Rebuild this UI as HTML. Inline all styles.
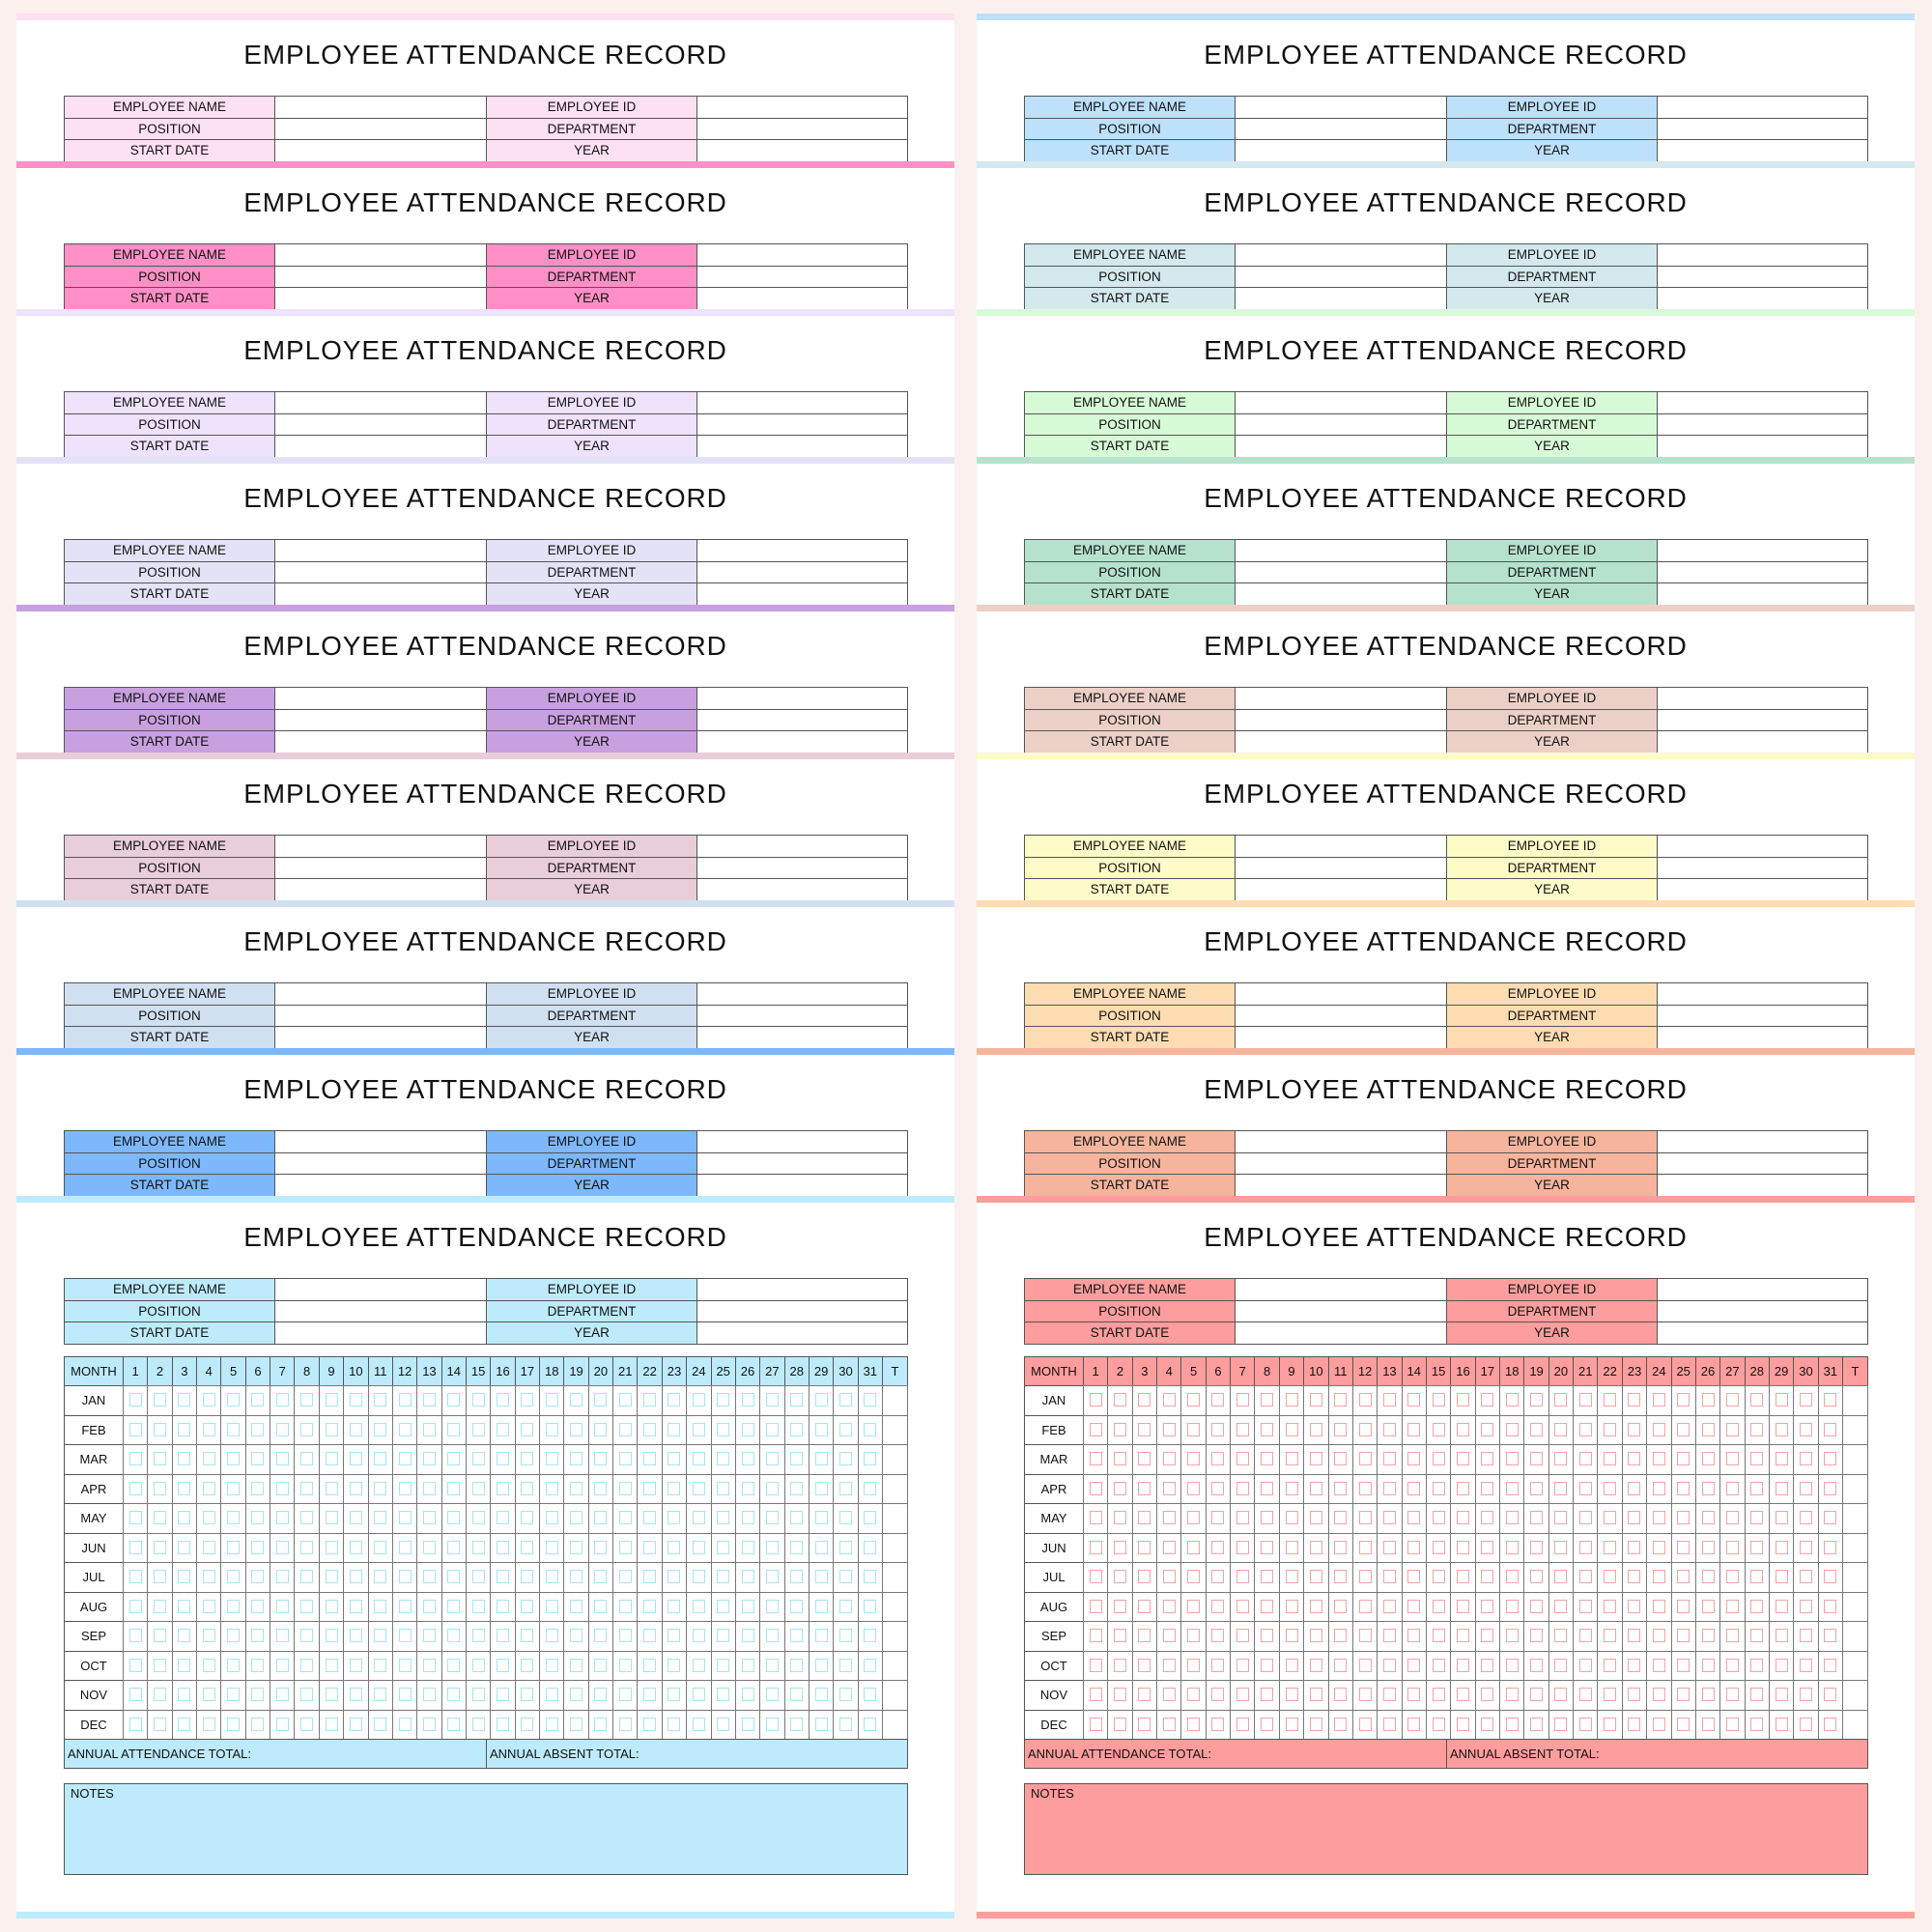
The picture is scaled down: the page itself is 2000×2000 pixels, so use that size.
<!DOCTYPE html>
<html><head><meta charset="utf-8">
<style>
html,body{margin:0;padding:0}
body{width:2000px;height:2000px;background:#faf0ee;position:relative;overflow:hidden;font-family:"Liberation Sans",sans-serif;color:#111}
.panel{position:absolute;top:14px;width:971px;height:1972px;background:#fff}
.abs{position:absolute;box-sizing:border-box}
.title{position:absolute;left:0;width:971px;text-align:center;font-size:28px;line-height:32px;letter-spacing:0.9px}
.cell{position:absolute;box-sizing:border-box;border:1px solid #555;font-size:13.5px;text-align:center;display:flex;align-items:center;justify-content:center}
.cb{position:absolute;box-sizing:border-box;width:13px;height:14px;border:1.5px solid}
</style></head><body>
<div id="root"></div>
<script>
const leftColors=['#fde0f2','#ff8fc6','#eee2fc','#e4e2f6','#c8a0e0','#e9cdd9','#d0e0f0','#7cb8fb','#bdebfc'];
const rightColors=['#bde0fb','#d4e9ee','#d7fbd7','#b6e2cd','#ecd0c7','#fdfbc7','#fddcb1','#f7b49c','#fe9d9d'];
const checkColors=['#a6e4f2','#f3a3a3'];
const infoLabels=[['EMPLOYEE NAME','EMPLOYEE ID'],['POSITION','DEPARTMENT'],['START DATE','YEAR']];
const months=['JAN','FEB','MAR','APR','MAY','JUN','JUL','AUG','SEP','OCT','NOV','DEC'];
const root=document.getElementById('root');
function mk(parent,cls,name,inter,css,text){
  const e=document.createElement('div');
  if(cls)e.className=cls;
  
  
  Object.assign(e.style,css);
  if(text!==undefined)e.textContent=text;
  parent.appendChild(e);return e;
}
[[17,leftColors,0,'left'],[1011,rightColors,1,'right']].forEach(([px,cols,ci,side])=>{
  const p=mk(root,'panel',side+'-panel',false,{left:px+'px'});
  const W=971;
  for(let k=0;k<9;k++){
    const y0=153*k;
    const c=cols[k];
    mk(p,'abs','section-stripe',false,{left:'0px',top:y0+'px',width:W+'px',height:'7px',background:c});
    mk(p,'title','sheet-title',false,{top:(y0+27)+'px'},'EMPLOYEE ATTENDANCE RECORD');
    const tx=49, colX=[0,218,437,655,873];
    for(let r=0;r<3;r++){
      for(let cc=0;cc<4;cc++){
        const isLab=cc%2===0;
        const lab=isLab?infoLabels[r][cc/2]:'';
        const nm=isLab?lab.toLowerCase().replace(/ /g,'-')+'-label':infoLabels[r][(cc-1)/2].toLowerCase().replace(/ /g,'-')+'-input';
        mk(p,'cell',nm,!isLab,{left:(tx+colX[cc])+'px',top:(y0+85+r*22.5)+'px',width:(colX[cc+1]-colX[cc]+1)+'px',height:'23.5px',background:isLab?c:'#fff'},lab);
      }
    }
    if(k===8){
      const gy=y0+166, hh=30, rh=30.5;
      const mw=61, dw=786/31;
      mk(p,'cell','month-header',false,{left:tx+'px',top:gy+'px',width:(mw+1)+'px',height:(hh+1)+'px',background:c,fontSize:'13px'},'MONTH');
      for(let d=0;d<32;d++){
        const x=tx+mw+d*dw, w=d<31?dw:(873-mw-786);
        mk(p,'cell','day-header',false,{left:x+'px',top:gy+'px',width:(w+1)+'px',height:(hh+1)+'px',background:c,fontSize:'13px'},d<31?String(d+1):'T');
      }
      months.forEach((m,i)=>{
        const ry=gy+hh+i*rh;
        mk(p,'cell','month-label',false,{left:tx+'px',top:ry+'px',width:(mw+1)+'px',height:(rh+1)+'px',fontSize:'13px'},m);
        for(let d=0;d<32;d++){
          const x=tx+mw+d*dw, w=d<31?dw:(873-mw-786);
          const cell=mk(p,'cell',d<31?'day-cell':'total-cell',false,{left:x+'px',top:ry+'px',width:(w+1)+'px',height:(rh+1)+'px',borderColor:'#777'});
          if(d<31){
            const b=mk(cell,'cb','attendance-checkbox',true,{borderColor:checkColors[ci],left:((w+1-13)/2-1)+'px',top:'7px'});
          }
        }
      });
      const ay=gy+hh+12*rh;
      mk(p,'cell','annual-attendance-total',true,{left:tx+'px',top:ay+'px',width:'438px',height:'31px',background:c,justifyContent:'flex-start',paddingLeft:'3px',fontSize:'13px'},'ANNUAL ATTENDANCE TOTAL:');
      mk(p,'cell','annual-absent-total',true,{left:(tx+437)+'px',top:ay+'px',width:'437px',height:'31px',background:c,justifyContent:'flex-start',paddingLeft:'3px',fontSize:'13px'},'ANNUAL ABSENT TOTAL:');
      mk(p,'cell','notes-box',true,{left:tx+'px',top:(ay+46)+'px',width:'874px',height:'95px',background:c,alignItems:'flex-start',justifyContent:'flex-start',padding:'2px 6px',fontSize:'13px'},'NOTES');
      mk(p,'abs','bottom-stripe',false,{left:'0px',top:'1965px',width:W+'px',height:'7px',background:c});
    }
  }
});
</script>
</body></html>
